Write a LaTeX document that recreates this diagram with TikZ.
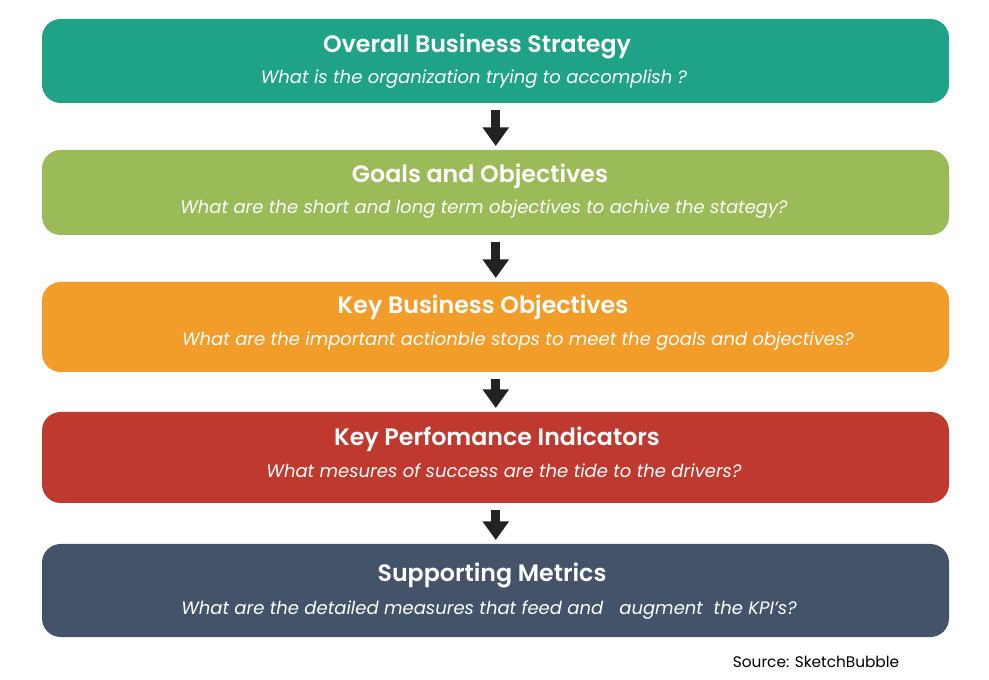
\documentclass[tikz,border=0pt]{standalone}
\usepackage{fontspec}
\setmainfont{Poppins}[BoldFont=Poppins SemiBold]
\usetikzlibrary{arrows.meta}
\definecolor{c1}{HTML}{1FA386}
\definecolor{c2}{HTML}{9BBB59}
\definecolor{c3}{HTML}{F29D2A}
\definecolor{c4}{HTML}{C0392F}
\definecolor{c5}{HTML}{435369}
\definecolor{arr}{HTML}{222222}
\begin{document}
\begin{tikzpicture}[x=0.75pt,y=-0.75pt,
 box/.style={rounded corners=14pt,minimum width=680.25pt,inner sep=0pt,anchor=north west},
 ttl/.style={font=\fontsize{17.8pt}{19pt}\selectfont\bfseries,text=white},
 sub/.style={font=\fontsize{13.5pt}{15pt}\selectfont\itshape,text=white},
 conn/.style={arr,line width=6.75pt,-{Triangle[width=19pt,length=14pt]},shorten <=4.5pt,shorten >=3pt}]
\useasboundingbox (0,0) rectangle (989,680);
\fill[c1,rounded corners=14pt] (42,19) rectangle (949,103);
\node[box,minimum height=63pt] (b1) at (42,19) {};
\fill[c2,rounded corners=14pt] (42,150) rectangle (949,235);
\node[box,minimum height=63.75pt] (b2) at (42,150) {};
\fill[c3,rounded corners=14pt] (42,282) rectangle (949,372);
\node[box,minimum height=67.5pt] (b3) at (42,282) {};
\fill[c4,rounded corners=14pt] (42,412) rectangle (949,503);
\node[box,minimum height=68.25pt] (b4) at (42,412) {};
\fill[c5,rounded corners=14pt] (42,544) rectangle (949,637);
\node[box,minimum height=69.75pt] (b5) at (42,544) {};
\node[ttl] (t1) at (477,46) {Overall Business Strategy};
\node[sub] (s1) at (474,79) {What is the organization trying to accomplish ?};
\node[ttl] (t2) at (480,176) {Goals and Objectives};
\node[sub] (s2) at (484,209) {What are the short and long term objectives to achive the stategy?};
\node[ttl] (t3) at (483,307) {Key Business Objectives};
\node[sub] (s3) at (518,341) {What are the important actionble stops to meet the goals and objectives?};
\node[ttl] (t4) at (497,439) {Key Perfomance Indicators};
\node[sub] (s4) at (504,471) {What mesures of success are the tide to the drivers?};
\node[ttl] (t5) at (492,575) {Supporting Metrics};
\node[sub] (s5) at (489,610) {What are the detailed measures that feed and \ \ augment\ \ the KPI’s?};
\node[font=\fontsize{11.5pt}{13pt}\selectfont,text=black] (src) at (816,662) {Source: SketchBubble};
\draw[conn] (b1.south) -- (b2.north);
\draw[conn] (b2.south) -- (b3.north);
\draw[conn] (b3.south) -- (b4.north);
\draw[conn] (b4.south) -- (b5.north);
\end{tikzpicture}
\end{document}
